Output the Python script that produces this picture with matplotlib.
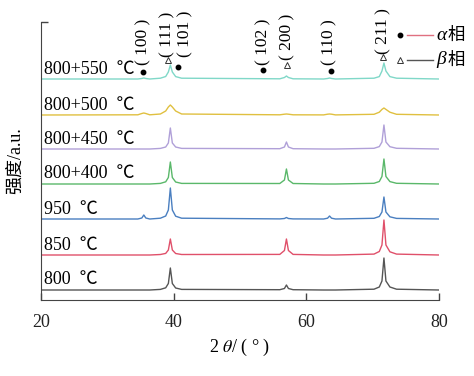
import matplotlib
matplotlib.use("Agg")
import matplotlib.pyplot as plt
from matplotlib.lines import Line2D

plt.rcParams['font.family'] = ['Liberation Serif', 'Noto Sans CJK SC']
plt.rcParams['mathtext.fontset'] = 'stix'

# 2theta points (baseline + peak shoulders + peak tops)
two_theta = [20, 34.6, 35.2, 35.5, 35.8, 36.4, 38.0, 38.8, 39.2, 39.5, 39.8, 40.3, 41.2,
             56.0, 56.7, 57.0, 57.3, 58.0, 62.6, 63.2, 63.5, 63.8, 64.4,
             70.2, 71.0, 71.4, 71.7, 72.0, 72.6, 73.6, 80]

samples = ["800  ℃", "850  ℃", "950  ℃", "800+400  ℃", "800+450  ℃", "800+500  ℃", "800+550  ℃"]
offsets = [10, 45, 81, 116, 151, 185, 221]
colors = ['#555555', '#e0506a', '#4a7fc0', '#5ab86a', '#b0a0d8', '#e0c040', '#80d8c8']

i_800 = [0, 0, 0, 0, 0, 0, 0.6, 2.2, 6.5, 22, 6.5, 2.0, 0.6,
         0.3, 1.5, 5, 1.5, 0.3, 0, 0, 0, 0, 0,
         0.8, 3, 9, 32, 9, 3, 0.8, 0]
i_850 = [0, 0, 0, 0, 0, 0, 0.5, 1.6, 5, 16, 5, 1.5, 0.5,
         0.6, 4.5, 16, 4.5, 0.6, 0, 0, 0, 0, 0,
         0.9, 3.5, 10, 35, 10, 3.2, 0.9, 0]
i_950 = [0, 0, 1, 4, 1, 0, 0.8, 3, 9, 31, 9, 2.8, 0.8,
         0.1, 0.5, 1.5, 0.5, 0.1, 0, 0.8, 3, 0.8, 0,
         0.7, 2.5, 7, 22, 7, 2.2, 0.6, 0]
i_800_400 = [0, 0, 0, 0, 0, 0, 0.6, 2.2, 6.5, 22, 6.5, 2, 0.6,
             0.5, 4, 15, 4, 0.5, 0, 0, 0, 0, 0,
             0.7, 2.5, 7.5, 25, 7.5, 2.4, 0.7, 0]
i_800_450 = [0, 0, 0, 0, 0, 0, 0.6, 2, 6, 21, 6, 2, 0.6,
             0.3, 2, 7, 2, 0.3, 0, 0, 0, 0, 0,
             0.7, 2.4, 7, 24, 7, 2.3, 0.7, 0]
i_800_500 = [0, 0.2, 1.5, 2, 1.5, 0.2, 1, 4, 8, 10, 8, 4, 1,
             0.2, 0.8, 1, 0.8, 0.2, 0.1, 0.8, 1, 0.8, 0.1,
             0.7, 2.8, 5.6, 7, 5.6, 2.8, 0.7, 0]
i_800_550 = [0, 0, 0.5, 1, 0.5, 0, 0.8, 2.5, 7, 14, 7, 2.4, 0.8,
             0.2, 1.5, 3, 1.5, 0.2, 0, 0.5, 1, 0.5, 0,
             0.8, 2.4, 8, 16, 8, 2.4, 0.8, 0]
intensities = [i_800, i_850, i_950, i_800_400, i_800_450, i_800_500, i_800_550]

# phase markers and plane labels
alpha_x = [35.4, 40.7, 53.5, 63.7]
alpha_y = [228, 233, 230, 229]
alpha_labels = ["( 100 )", "( 101 )", "( 102 )", "( 110 )"]
alpha_label_x = [35.4, 41.7, 53.5, 63.5]
alpha_label_y = [235, 243, 235, 235]

beta_x = [39.2, 57.1, 71.6]
beta_y = [240, 235, 243]
beta_labels = ["( 111 )", "( 200 )", "( 211 )"]
beta_label_x = [39.0, 57.1, 71.6]
beta_label_y = [243, 240, 246]

fig = plt.figure(figsize=(4.74, 3.76), dpi=100)
ax = fig.add_axes([41 / 474, 76 / 376, 398 / 474, 278 / 376])

for inten, off, col, name in zip(intensities, offsets, colors, samples):
    ax.plot(two_theta, [v + off for v in inten], color=col, lw=1.0)
    ax.text(20.5, off + 10, name, fontsize=13, va='center', ha='left')

ax.plot(alpha_x, alpha_y, 'o', color='black', ms=3.2, ls='none')
ax.plot(beta_x, beta_y, '^', mfc='white', mec='#333333', mew=0.7, ms=4, ls='none')
for x, y, s in zip(alpha_label_x, alpha_label_y, alpha_labels):
    ax.text(x, y, s, rotation=90, fontsize=12.5, ha='center', va='bottom', clip_on=False)
for x, y, s in zip(beta_label_x, beta_label_y, beta_labels):
    ax.text(x, y, s, rotation=90, fontsize=12.5, ha='center', va='bottom', clip_on=False)

ax.set_xlim(20, 80)
ax.set_ylim(0, 278)
ax.set_xticks([20, 40, 60, 80])
ax.set_yticks([278])
ax.set_yticklabels([])
ax.tick_params(direction='in', length=5, width=1, colors='#444444', labelcolor='#222222',
               labelsize=13, pad=10)
for side in ['top', 'right']:
    ax.spines[side].set_visible(False)
for side in ['left', 'bottom']:
    ax.spines[side].set_color('#444444')
ax.set_xlabel("2 $\\theta$/ ( ° )", fontsize=13, labelpad=4)
ax.set_ylabel("强度/a.u.", fontsize=13, labelpad=2)

# legend drawn by hand: marker, short line, text
fig.add_artist(Line2D([400 / 474], [1 - 35 / 376], marker='o', color='black', ms=3.2))
fig.add_artist(Line2D([407 / 474, 433 / 474], [1 - 35 / 376] * 2, color='#e07080', lw=1))
fig.text(436 / 474, 1 - 35 / 376, "α", fontsize=14, style='italic', va='center', ha='left')
fig.text(448 / 474, 1 - 35 / 376, "相", fontsize=12.5, va='center', ha='left',
         family=['Noto Sans CJK SC'])
fig.add_artist(Line2D([400 / 474], [1 - 60 / 376], marker='^', mfc='white', mec='#333333',
                      mew=0.7, ms=4, color='#333333'))
fig.add_artist(Line2D([407 / 474, 433 / 474], [1 - 60 / 376] * 2, color='#555555', lw=1))
fig.text(436 / 474, 1 - 60 / 376, "β", fontsize=14, style='italic', va='center', ha='left')
fig.text(448 / 474, 1 - 60 / 376, "相", fontsize=12.5, va='center', ha='left',
         family=['Noto Sans CJK SC'])

fig.savefig("out.png", dpi=100)
